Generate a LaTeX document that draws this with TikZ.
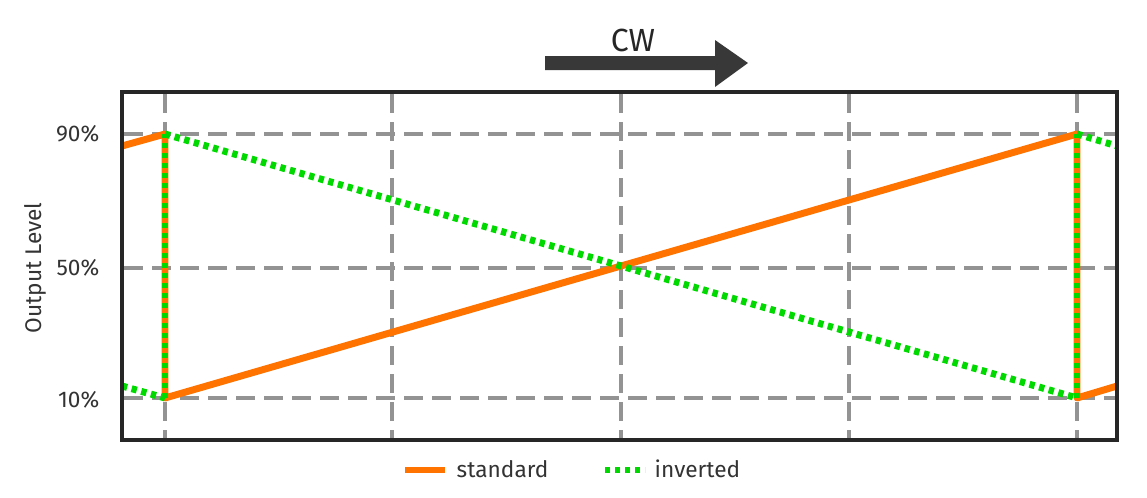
\documentclass[tikz,border=0pt]{standalone}
\usepackage{fontspec}
\setmainfont{Fira Sans}
\begin{document}
\begin{tikzpicture}[x=0.75pt,y=-0.75pt,
  grid/.style={draw=gray!85,line width=2.5pt,dash pattern=on 14pt off 7pt},
  std/.style={draw=orange!90!red,line width=5.2pt},
  inv/.style={draw=green!85!black,line width=5.2pt,dash pattern=on 4pt off 3.5pt},
  lbl/.style={font=\fontsize{17}{17}\selectfont,text=black!80}]
\useasboundingbox (0,0) rectangle (1147,497);
\foreach \x in {165,392,621,849,1077} \draw[grid] (\x,94) -- (\x,438);
\foreach \y in {134,268,398} \draw[grid] (124,\y) -- (1115,\y);
\coordinate (a1) at (122,146); \coordinate (a2) at (165,134); \coordinate (a3) at (165,398);
\coordinate (a4) at (1077,134); \coordinate (a5) at (1077,398); \coordinate (a6) at (1117,386);
\coordinate (b1) at (122,386); \coordinate (b6) at (1117,146);
\draw[std,line join=round] (a1)--(a2)--(a3)--(a4)--(a5)--(a6);
\draw[inv] (b1)--(a3);
\draw[inv] (a3)--(a2);
\draw[inv] (a2)--(a5);
\draw[inv] (a5)--(a4);
\draw[inv] (a4)--(b6);
\draw[black!85,line width=3.2pt] (122,92) rectangle (1117,440);
\node[lbl,anchor=east] (p90) at (104,134) {90\%};
\node[lbl,anchor=east] (p50) at (104,268) {50\%};
\node[lbl,anchor=east] (p10) at (104,400) {10\%};
\node[lbl,rotate=90] (ol) at (35,268) {Output Level};
\fill[black!78] (545,56) -- (715,56) -- (715,40) -- (748,63) -- (715,87) -- (715,70) -- (545,70) -- cycle;
\node[font=\fontsize{24}{24}\selectfont,text=black!85] (cw) at (633,40) {CW};
\coordinate (l1) at (405,470); \coordinate (l2) at (445,470);
\coordinate (l3) at (605,470); \coordinate (l4) at (645,470);
\draw[std] (l1)--(l2); \draw[inv] (l3)--(l4);
\node[lbl,anchor=west] (ls) at (452,469) {standard};
\node[lbl,anchor=west] (li) at (650,469) {inverted};
\end{tikzpicture}
\end{document}
